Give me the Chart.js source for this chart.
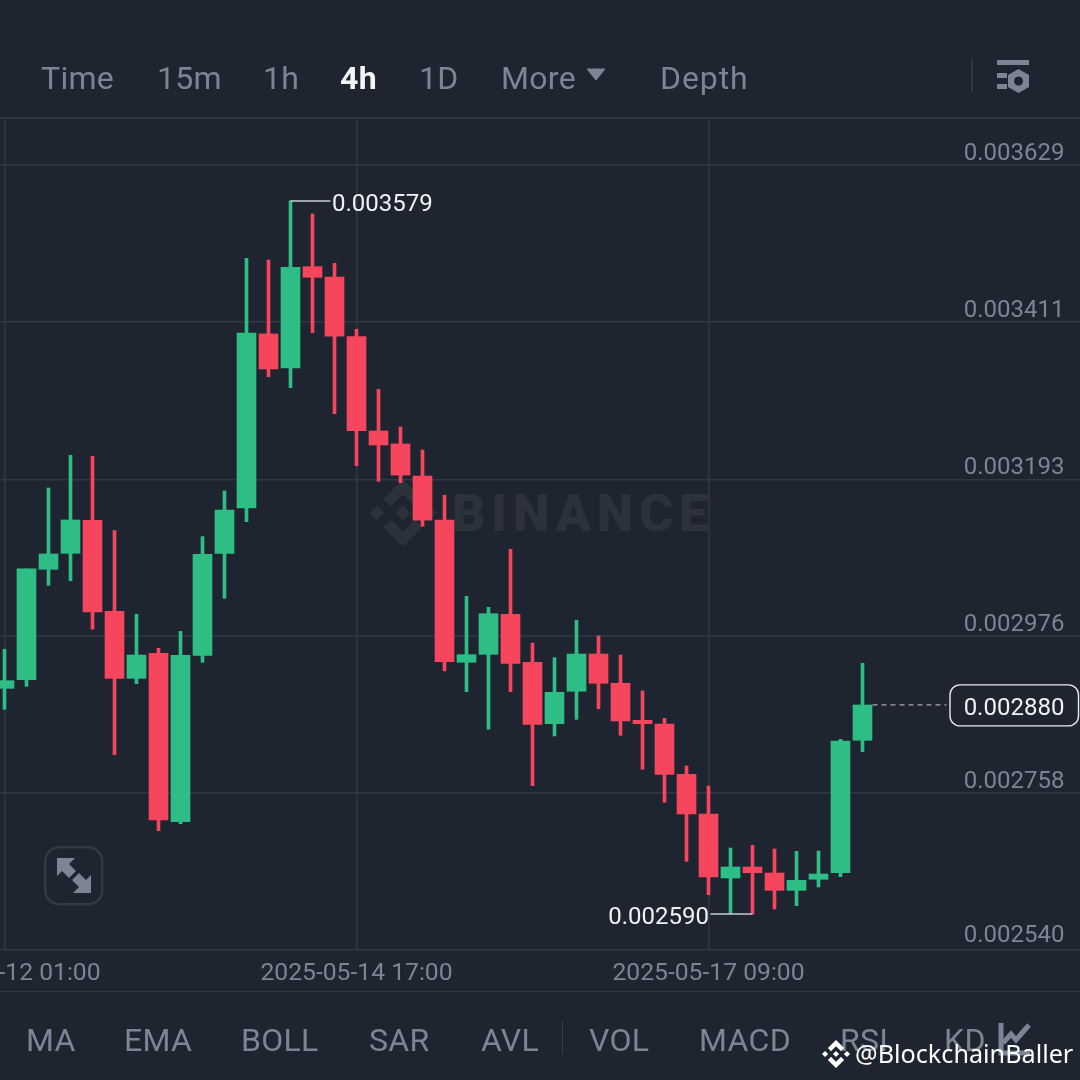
<!DOCTYPE html>
<html><head><meta charset="utf-8">
<style>
html,body{margin:0;padding:0;width:1080px;height:1080px;overflow:hidden;background:#1f2530;font-family:Roboto,sans-serif}
canvas{position:absolute;left:0;top:0;z-index:1}
.t{position:absolute;z-index:2;font-size:32px;line-height:40px;color:#7c8594;white-space:nowrap;letter-spacing:.3px}
.line{position:absolute;z-index:2;background:#323843}
svg{position:absolute;z-index:2;overflow:visible}
#wm{position:absolute;z-index:0;left:452px;top:484px;font:900 52px/60px Roboto,sans-serif;letter-spacing:5.8px;color:#2c323c;white-space:nowrap}
#credit{position:absolute;z-index:3;left:855px;top:1036px;font:400 25.2px/34px "Noto Sans",sans-serif;color:#fff;white-space:nowrap}
</style></head>
<body>
<svg style="z-index:0;left:402.5px;top:513px" width="1" height="1"><g fill="#2c323c" transform="scale(33.5)"><use href="#mark"/></g></svg>
<div id="wm">BINANCE</div>
<canvas id="c" width="1080" height="1080"></canvas>

<span class="t" style="left:41px;top:58px">Time</span>
<span class="t" style="left:157px;top:58px">15m</span>
<span class="t" style="left:263px;top:58px">1h</span>
<span class="t" style="left:340px;top:58px;color:#f3f5f7;font-weight:700">4h</span>
<span class="t" style="left:419px;top:58px">1D</span>
<span class="t" style="left:501px;top:58px">More</span>
<svg style="left:586px;top:68px" width="20" height="14"><path d="M1 1H19L10 12Z" fill="#7c8594" stroke="#7c8594" stroke-linejoin="round"/></svg>
<span class="t" style="left:660px;top:58px;letter-spacing:.9px">Depth</span>
<div class="line" style="left:971px;top:59px;width:2px;height:33px"></div>
<svg style="left:997px;top:60px" width="32" height="32"><g fill="#7c8594"><rect x="0" y="0" width="32" height="5"/><rect x="0" y="13" width="10" height="5"/><rect x="0" y="24" width="10" height="5"/><path fill-rule="evenodd" d="M21.5 9L32 15V27L21.5 33L11 27V15ZM21.5 16.5a4.5 4.5 0 1 0 .01 0Z"/></g></svg>
<div class="line" style="left:0;top:117px;width:1080px;height:2px"></div>
<div class="line" style="left:0;top:991px;width:1080px;height:1px"></div>

<svg style="left:44px;top:846px" width="60" height="60"><rect x="1.2" y="1.2" width="57" height="57" rx="14" fill="none" stroke="#333a46" stroke-width="2.4"/><g fill="#7c8594"><path d="M13 12H31L25 18L32 25L25 32L18 25L13 30Z"/><path d="M47 47H29L35 41L28 34L35 27L42 34L47 29Z"/></g></svg>

<span class="t" style="left:26px;top:1020px">MA</span>
<span class="t" style="left:124px;top:1020px">EMA</span>
<span class="t" style="left:241px;top:1020px">BOLL</span>
<span class="t" style="left:369px;top:1020px">SAR</span>
<span class="t" style="left:481px;top:1020px">AVL</span>
<div class="line" style="left:562px;top:1021px;width:1px;height:33px;background:#373e4a"></div>
<span class="t" style="left:589px;top:1020px">VOL</span>
<span class="t" style="left:699px;top:1020px">MACD</span>
<span class="t" style="left:840px;top:1020px">RSI</span>
<span class="t" style="left:944px;top:1020px">KD</span>
<svg style="left:998px;top:1023px" width="32" height="32"><g fill="none" stroke="#7c8594" stroke-width="5"><path d="M3 0V30H32"/><path d="M5 20L13 11L18 17L31 2"/></g></svg>

<svg style="z-index:3;left:836px;top:1054px" width="1" height="1"><defs><g id="mark"><path d="M0 -1L.58 -.42L.36 -.2L0 -.56L-.36 -.2L-.58 -.42Z"/><path d="M0 1L.58 .42L.36 .2L0 .56L-.36 .2L-.58 .42Z"/><path d="M0 -.22L.22 0L0 .22L-.22 0Z"/><path d="M-.78 -.22L-.56 0L-.78 .22L-1 0Z"/><path d="M.78 -.22L1 0L.78 .22L.56 0Z"/></g></defs><g fill="#fff" transform="scale(14)"><use href="#mark"/></g></svg>
<div id="credit">@BlockchainBaller</div>

<script src="https://cdn.jsdelivr.net/npm/chart.js@4"></script>
<script>
// Candles, oldest first (prices)
const opens  = [0.0029030,0.0029150,0.0030681,0.0030903,0.0031361,0.0030099,0.0029169,0.0029516,0.0027180,0.0029488,0.0030903,0.0031532,0.0033946,0.0033474,0.0034879,0.0034736,0.0033908,0.0032600,0.0032420,0.0031976,0.0031365,0.0029391,0.0029502,0.0030057,0.0029391,0.0028539,0.0028989,0.0029506,0.0029100,0.0028586,0.0028535,0.0027837,0.0027287,0.0026399,0.0026551,0.0026468,0.0026228,0.0026381,0.0026472,0.0028309];
const closes = [0.0029136,0.0030686,0.0030894,0.0031365,0.0030089,0.0029169,0.0029492,0.0027203,0.0029488,0.0030889,0.0031504,0.0033959,0.0033460,0.0034871,0.0034732,0.0033914,0.0032604,0.0032406,0.0031989,0.0031361,0.0029399,0.0029497,0.0030065,0.0029377,0.0028531,0.0028975,0.0029506,0.0029100,0.0028577,0.0028539,0.0027837,0.0027287,0.0026413,0.0026551,0.0026472,0.0026228,0.0026367,0.0026454,0.0028299,0.0028799];
const highs  = [0.0029572,0.0030686,0.0031809,0.0032263,0.0032249,0.0031217,0.0030057,0.0029585,0.0029821,0.0031134,0.0031768,0.0034996,0.0034972,0.0035791,0.0035610,0.0034926,0.0034011,0.0033178,0.0032655,0.0032336,0.0031708,0.0030307,0.0030154,0.0030959,0.0029659,0.0029455,0.0029974,0.0029756,0.0029492,0.0028993,0.0028614,0.0027953,0.0027675,0.0026815,0.0026852,0.0026801,0.0026769,0.0026773,0.0028323,0.0029377];
const lows   = [0.0028739,0.0029058,0.0030459,0.0030523,0.0029849,0.0028109,0.0029094,0.0027055,0.0027152,0.0029391,0.0030279,0.0031342,0.0033353,0.0033201,0.0033964,0.0032840,0.0032119,0.0031902,0.0031883,0.0031278,0.0029270,0.0028983,0.0028462,0.0028983,0.0027679,0.0028369,0.0028600,0.0028747,0.0028378,0.0027907,0.0027449,0.0026630,0.0026167,0.0025909,0.0025899,0.0025969,0.0026015,0.0026274,0.0026417,0.0028151];

const priceTicks = [0.003629,0.003411,0.003193,0.002976,0.002758,0.002540];
const timeTickIndex = [0,16,32];
const timeTickLabels = ['2025-05-12 01:00','2025-05-14 17:00','2025-05-17 09:00'];
const highIndex = 13, highLabel = '0.003579';
const lowIndex = 34,  lowLabel = '0.002590';
const lastPrice = 0.002880, lastLabel = '0.002880';

const UP='#2ebd85', DOWN='#f6465d', GRID='#323843', TICK='#7c8594';
const colour = c => closes[c.dataIndex] >= opens[c.dataIndex] ? UP : DOWN;
const idx = opens.map((_,i)=>i);

const annot = {
  id:'annot',
  beforeDraw(chart){
    const s = chart.scales.y, items = s.getLabelItems();
    items.forEach((it,i)=>{ if(priceTicks[i]===s.min && !it.moved){ it.options.translation[1]-=3; it.moved=true; } });
  },
  afterDatasetsDraw(chart){
    const {ctx,scales:{x,y}} = chart;
    ctx.save();
    ctx.font='400 24px Roboto,sans-serif'; ctx.textBaseline='middle';
    ctx.strokeStyle='#c9cdd3'; ctx.lineWidth=1.5; ctx.fillStyle='#f0f2f4';
    // high marker
    let px=x.getPixelForValue(highIndex), py=y.getPixelForValue(highs[highIndex]);
    ctx.beginPath(); ctx.moveTo(px,py); ctx.lineTo(px+40,py); ctx.stroke();
    ctx.textAlign='left'; ctx.fillText(highLabel,px+41.5,py+4);
    // low marker
    px=x.getPixelForValue(lowIndex); py=y.getPixelForValue(lows[lowIndex]);
    ctx.beginPath(); ctx.moveTo(px,py); ctx.lineTo(px-42,py); ctx.stroke();
    ctx.textAlign='right'; ctx.fillText(lowLabel,px-43.5,py+3.5);
    // last price
    const last=opens.length-1;
    px=x.getPixelForValue(last)+10; py=y.getPixelForValue(lastPrice);
    ctx.setLineDash([5,4]); ctx.lineWidth=1;
    ctx.beginPath(); ctx.moveTo(px,py); ctx.lineTo(px+74,py); ctx.stroke();
    ctx.setLineDash([]);
    ctx.strokeStyle='#e8eaed'; ctx.lineWidth=1.4;
    ctx.fillStyle='#1f2530';
    ctx.beginPath(); ctx.roundRect(950,py-20,128.5,41,10); ctx.fill(); ctx.stroke();
    ctx.fillStyle='#f0f2f4'; ctx.textAlign='center'; ctx.fillText(lastLabel,1014,py+4.5);
    ctx.restore();
  }
};

new Chart(document.getElementById('c'),{
  type:'bar',
  data:{datasets:[
    {label:'wick',data:idx.map(i=>({x:i,y:[lows[i],highs[i]]})),backgroundColor:colour,barThickness:3,grouped:false,order:2},
    {label:'body',data:idx.map(i=>({x:i,y:[opens[i],closes[i]]})),backgroundColor:colour,barThickness:19,grouped:false,order:1}
  ]},
  plugins:[annot],
  options:{
    responsive:false,animation:false,
    layout:{padding:{top:120,left:0,right:0,bottom:0}},
    plugins:{legend:{display:false},tooltip:{enabled:false}},
    scales:{
      x:{type:'linear',offset:false,bounds:'data',min:-4.5/22,max:1075.5/22,position:'bottom',
        border:{display:false},
        grid:{color:GRID,lineWidth:1.5,drawTicks:false,offset:false},
        ticks:{autoSkip:false,maxRotation:0,minRotation:0,padding:9,color:TICK,font:{family:'Roboto',size:24.7},
          callback:v=>timeTickLabels[timeTickIndex.indexOf(v)]},
        afterBuildTicks:s=>{s.ticks=timeTickIndex.map(v=>({value:v}));},
        afterFit:s=>{s.height=130;s.paddingLeft=0;s.paddingRight=0;}
      },
      y:{type:'linear',position:'right',bounds:'data',min:0.00254,max:0.0036914,
        border:{display:false},
        grid:{color:GRID,lineWidth:1.5,drawTicks:false},
        ticks:{autoSkip:false,mirror:true,padding:-15.5,labelOffset:-11,color:TICK,font:{family:'Roboto',size:24},
          callback:v=>v.toFixed(6)},
        afterBuildTicks:s=>{s.ticks=priceTicks.map(v=>({value:v}));},
        afterFit:s=>{s.width=0;s.paddingTop=0;s.paddingBottom=0;}
      }
    }
  }
});
</script>
</body></html>
